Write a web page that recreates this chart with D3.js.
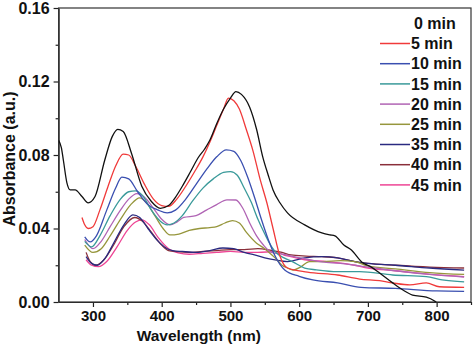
<!DOCTYPE html>
<html>
<head>
<meta charset="utf-8">
<script src="https://cdn.jsdelivr.net/npm/d3@7"></script>
<style>
  body { margin: 0; background: #fff; }
  svg text { font-family: Arial, "Liberation Sans", sans-serif; font-weight: bold; fill: #111; }
  .axis path, .axis line { stroke: #222; stroke-width: 1.2; }
</style>
</head>
<body>
<script>
// absorbance spectra, [wavelength nm, absorbance]
const legendLabels = ['0 min', '5 min', '10 min', '15 min', '20 min', '25 min', '35 min', '40 min', '45 min']
const colors = ['#111111', '#f03a3a', '#3a4fb0', '#3a9a9a', '#b064b4', '#96963c', '#2a2a80', '#8a2f3a', '#ee4595']

const min0 = [[250,0.088],[254,0.084],[257,0.077],[262,0.065],[267,0.061],[274,0.061],[284,0.0574],[293,0.054],[303,0.0574],[317,0.077],[328,0.090],[336,0.094],[344,0.0928],[356,0.081],[371,0.063],[385,0.0547],[398,0.051],[410,0.0525],[420,0.057],[430,0.063],[442,0.071],[453,0.0785],[462,0.083],[470,0.088],[480,0.097],[490,0.105],[500,0.111],[508,0.1145],[516,0.113],[528,0.106],[538,0.094],[547,0.079],[555,0.069],[562,0.061],[572,0.054],[583,0.0485],[608,0.042],[633,0.0376],[645,0.0365],[652,0.036],[665,0.031],[676,0.0283],[691,0.0218],[705,0.019],[717,0.0158],[736,0.0104],[751,0.0065],[765,0.0038],[785,0.0027],[797,0.0005],[802,-0.001]]
const min5 = [[284,0.046],[288,0.042],[293,0.040],[300,0.041],[310,0.050],[322,0.063],[333,0.074],[344,0.0805],[352,0.080],[362,0.074],[375,0.064],[388,0.056],[400,0.0525],[410,0.052],[422,0.056],[435,0.063],[448,0.071],[460,0.079],[470,0.087],[480,0.096],[490,0.105],[497,0.111],[505,0.1095],[513,0.105],[523,0.094],[533,0.082],[543,0.067],[553,0.054],[562,0.040],[572,0.025],[583,0.0185],[612,0.0163],[656,0.0147],[688,0.0125],[717,0.0116],[736,0.0104],[761,0.0093],[785,0.0104],[804,0.0083],[840,0.008]]
const min10 = [[288,0.0355],[296,0.0327],[305,0.036],[320,0.050],[333,0.062],[342,0.068],[352,0.067],[365,0.060],[380,0.053],[395,0.050],[408,0.0485],[420,0.050],[435,0.056],[450,0.064],[465,0.072],[480,0.079],[494,0.0828],[505,0.082],[515,0.077],[525,0.068],[535,0.057],[545,0.045],[555,0.034],[565,0.025],[579,0.0174],[600,0.014],[620,0.012],[656,0.0104],[690,0.008],[740,0.0074],[800,0.006],[840,0.0058]]
const min15 = [[288,0.033],[298,0.030],[310,0.036],[325,0.047],[340,0.056],[352,0.060],[362,0.0605],[372,0.058],[385,0.050],[398,0.044],[408,0.042],[418,0.043],[430,0.047],[445,0.055],[460,0.062],[475,0.067],[490,0.0705],[500,0.071],[510,0.069],[520,0.062],[530,0.0545],[540,0.045],[550,0.037],[560,0.030],[567,0.0267],[578,0.024],[590,0.022],[608,0.0185],[625,0.0175],[656,0.0165],[688,0.0165],[736,0.0147],[785,0.0138],[808,0.012],[840,0.011]]
const min20 = [[288,0.034],[300,0.029],[312,0.033],[325,0.041],[340,0.050],[352,0.056],[364,0.059],[375,0.057],[388,0.051],[400,0.045],[412,0.042],[422,0.0435],[432,0.046],[450,0.047],[465,0.050],[480,0.053],[495,0.0556],[508,0.0555],[518,0.051],[528,0.043],[538,0.036],[548,0.031],[560,0.027],[575,0.026],[594,0.0245],[615,0.023],[633,0.0218],[660,0.021],[681,0.020],[700,0.019],[740,0.017],[790,0.015],[840,0.0136]]
const min25 = [[288,0.031],[300,0.027],[312,0.029],[325,0.036],[340,0.045],[355,0.053],[368,0.0567],[378,0.054],[390,0.047],[402,0.040],[412,0.0365],[425,0.037],[440,0.039],[455,0.040],[470,0.0405],[480,0.041],[492,0.043],[503,0.0443],[513,0.043],[523,0.038],[538,0.032],[550,0.029],[557,0.0267],[565,0.024],[575,0.020],[583,0.0185],[591,0.0174],[602,0.019],[615,0.022],[634,0.022],[660,0.0225],[681,0.022],[700,0.0195],[740,0.018],[790,0.016],[840,0.015]]
const min35 = [[290,0.0247],[298,0.021],[306,0.020],[318,0.024],[330,0.032],[345,0.042],[358,0.0474],[368,0.046],[380,0.040],[395,0.033],[408,0.029],[416,0.028],[430,0.0275],[450,0.027],[470,0.028],[489,0.0294],[505,0.029],[520,0.027],[535,0.0256],[550,0.024],[565,0.0229],[583,0.022],[608,0.024],[633,0.0247],[656,0.024],[681,0.022],[700,0.021],[740,0.020],[790,0.0185],[840,0.0174]]
const min40 = [[290,0.027],[296,0.022],[304,0.020],[316,0.023],[330,0.031],[345,0.041],[361,0.046],[372,0.044],[385,0.038],[400,0.031],[410,0.028],[422,0.0274],[440,0.027],[460,0.0275],[480,0.028],[500,0.0285],[520,0.0285],[540,0.029],[560,0.028],[575,0.027],[588,0.0256],[610,0.025],[633,0.0247],[656,0.024],[681,0.022],[700,0.021],[740,0.020],[790,0.019],[840,0.0185]]
const min45 = [[290,0.023],[298,0.020],[308,0.0192],[320,0.022],[335,0.030],[350,0.039],[362,0.0435],[371,0.0447],[382,0.042],[395,0.035],[410,0.029],[424,0.0267],[440,0.026],[460,0.0265],[480,0.027],[500,0.0275],[520,0.027],[540,0.027],[565,0.0274],[578,0.0255],[588,0.0247],[608,0.023],[640,0.022],[681,0.020],[700,0.0185],[740,0.017],[790,0.015],[840,0.0138]]

const series = [min0, min5, min10, min15, min20, min25, min35, min40, min45]
const xTicks = [300, 400, 500, 600, 700, 800]
const yTicks = [0.00, 0.04, 0.08, 0.12, 0.16]

const svgWidth = 474
const svgHeight = 344
const margin = {top: 8, right: 3, bottom: 42, left: 58.6}
const width = svgWidth - margin.left - margin.right
const height = svgHeight - margin.top - margin.bottom

const svg = d3.select('body').append('svg')
  .attr('width', svgWidth).attr('height', svgHeight)
const g = svg.append('g')
  .attr('transform', `translate(${margin.left},${margin.top})`)

const x = d3.scaleLinear().domain([250, 850]).range([0, width])
const y = d3.scaleLinear().domain([0, 0.16]).range([height, 0])

g.append('clipPath').attr('id', 'plot')
  .append('rect').attr('width', width).attr('height', height)

// minor ticks
g.append('g').attr('class', 'axis')
  .attr('transform', `translate(0,${height})`)
  .call(d3.axisBottom(x).tickValues(d3.range(350, 851, 100)).tickSize(3).tickFormat(''))
  .call(a => a.select('.domain').remove())
g.append('g').attr('class', 'axis')
  .call(d3.axisLeft(y).tickValues(d3.range(0.02, 0.16, 0.04)).tickSize(3).tickFormat(''))
  .call(a => a.select('.domain').remove())

// major ticks + labels
g.append('g').attr('class', 'axis')
  .attr('transform', `translate(0,${height})`)
  .call(d3.axisBottom(x).tickValues(xTicks).tickSize(5).tickPadding(3).tickSizeOuter(0))
  .call(a => a.selectAll('text').attr('font-size', 15).attr('fill', '#111'))
g.append('g').attr('class', 'axis')
  .call(d3.axisLeft(y).tickValues(yTicks).tickSize(5).tickPadding(4).tickSizeOuter(0).tickFormat(d3.format('.2f')))
  .call(a => a.selectAll('text').attr('font-size', 16).attr('fill', '#111'))

// frame
g.append('rect')
  .attr('width', width).attr('height', height)
  .attr('fill', 'none').attr('stroke', '#333').attr('stroke-width', 1.2)

const line = d3.line()
  .x(d => x(d[0]))
  .y(d => y(d[1]))
  .curve(d3.curveMonotoneX)

g.append('g').attr('clip-path', 'url(#plot)')
  .selectAll('path').data(series.slice().reverse()).enter().append('path')
  .attr('d', line)
  .attr('fill', 'none')
  .attr('stroke', (d, i) => colors[series.length - 1 - i])
  .attr('stroke-width', 1.3)

// legend
const legend = svg.append('g')
legendLabels.forEach((label, i) => {
  const row = legend.append('g').attr('transform', `translate(0,${23.3 + i * 20.2})`)
  if (i > 0) {
    row.append('line')
      .attr('x1', 380).attr('x2', 410)
      .attr('stroke', colors[i]).attr('stroke-width', 1.5)
  }
  row.append('text')
    .attr('x', i === 0 ? 414 : 411).attr('dy', '0.36em')
    .attr('font-size', 16)
    .text(label)
})

// axis titles
svg.append('text')
  .attr('x', margin.left + x(454)).attr('y', 340.5)
  .attr('text-anchor', 'middle').attr('font-size', 15.5)
  .text('Wavelength (nm)')
svg.append('text')
  .attr('transform', 'translate(14.5,159) rotate(-90)')
  .attr('text-anchor', 'middle').attr('font-size', 16)
  .text('Absorbance (a.u.)')
</script>
</body>
</html>
